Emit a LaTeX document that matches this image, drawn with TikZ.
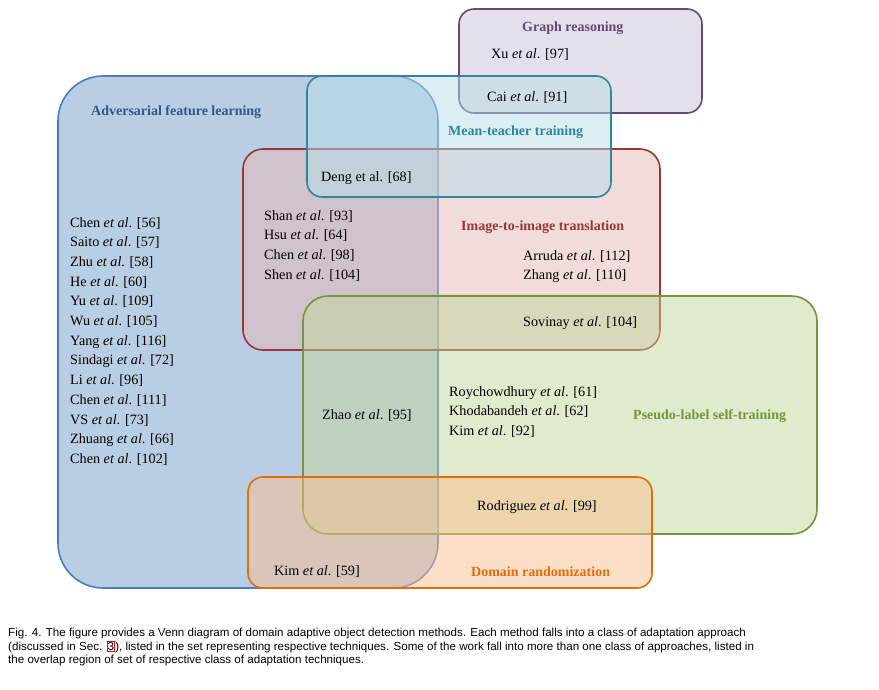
\documentclass[tikz,border=0pt]{standalone}
\usepackage{fontspec}
\setmainfont{Liberation Serif}
\newfontfamily\capf{Liberation Sans}
\begin{document}
\begin{tikzpicture}[x=1pt,y=-1pt,
  set/.style={line width=1.6pt,rounded corners=#1},
  ttl/.style={anchor=west,inner sep=0pt,font=\fontsize{14}{16}\selectfont\bfseries},
  lst/.style={anchor=north west,align=left,inner sep=0pt,font=\fontsize{14.2}{19.7}\selectfont},
  itm/.style={anchor=west,inner sep=0pt,font=\fontsize{14.2}{16}\selectfont}]
\definecolor{advb}{RGB}{74,126,187}\definecolor{advf}{RGB}{149,179,215}
\definecolor{grb}{RGB}{96,74,123}\definecolor{grf}{RGB}{204,192,218}
\definecolor{mtb}{RGB}{49,133,155}\definecolor{mtf}{RGB}{183,222,232}
\definecolor{iib}{RGB}{149,55,53}\definecolor{iif}{RGB}{230,185,184}
\definecolor{plb}{RGB}{119,147,60}\definecolor{plf}{RGB}{195,214,155}
\definecolor{drb}{RGB}{228,108,10}\definecolor{drf}{RGB}{250,192,144}
\useasboundingbox (0,0) rectangle (879,689);
\fill[white] (0,0) rectangle (879,689);
\draw[set=45pt,draw=advb,fill=advf,fill opacity=0.65] (58,76) rectangle (438,588);
\draw[set=15pt,draw=grb,fill=grf,fill opacity=0.5] (459,9) rectangle (702,113);
\draw[set=20pt,draw=iib,fill=iif,fill opacity=0.5] (243,149) rectangle (660,350);
\draw[set=15pt,draw=mtb,fill=mtf,fill opacity=0.5] (307,76) rectangle (611,197);
\draw[set=25pt,draw=plb,fill=plf,fill opacity=0.5] (303,296) rectangle (817,534);
\draw[set=15pt,draw=drb,fill=drf,fill opacity=0.5] (248,477) rectangle (652,588);
\node[ttl,text=grb] (tg) at (522,28) {Graph reasoning};
\node[ttl,text=advb!70!black] (ta) at (91,112) {Adversarial feature learning};
\node[ttl,text=mtb] (tm) at (448,132) {Mean-teacher training};
\node[ttl,text=iib] (ti) at (461,227) {Image-to-image translation};
\node[ttl,text=plb] (tp) at (633,416) {Pseudo-label self-training};
\node[ttl,text=drb] (td) at (471,572) {Domain randomization};
\node[itm] (xu) at (491,55) {Xu \emph{et al}. [97]};
\node[itm] (cai) at (487,98) {Cai \emph{et al}. [91]};
\node[itm] (deng) at (321,178) {Deng et al. [68]};
\node[lst] (adv) at (70,217) {Chen \emph{et al}. [56]\\Saito \emph{et al}. [57]\\Zhu \emph{et al}. [58]\\He \emph{et al}. [60]\\Yu \emph{et al}. [109]\\Wu \emph{et al}. [105]\\Yang \emph{et al}. [116]\\Sindagi \emph{et al}. [72]\\Li \emph{et al}. [96]\\Chen \emph{et al}. [111]\\VS \emph{et al}. [73]\\Zhuang \emph{et al}. [66]\\Chen \emph{et al}. [102]};
\node[lst] (ai) at (264,210) {Shan \emph{et al}. [93]\\Hsu \emph{et al}. [64]\\Chen \emph{et al}. [98]\\Shen \emph{et al}. [104]};
\node[lst] (ii) at (523,250) {Arruda \emph{et al}. [112]\\Zhang \emph{et al}. [110]};
\node[itm] (sov) at (523,323) {Sovinay \emph{et al}. [104]};
\node[lst] (pl) at (449,386) {Roychowdhury \emph{et al}. [61]\\Khodabandeh \emph{et al}. [62]\\Kim \emph{et al}. [92]};
\node[itm] (zhao) at (322,416) {Zhao \emph{et al}. [95]};
\node[itm] (rod) at (477,507) {Rodriguez \emph{et al}. [99]};
\node[itm] (kim) at (274,572) {Kim \emph{et al}. [59]};
\node[anchor=north west,inner sep=0pt,align=left,font=\capf\fontsize{11.6}{13.6}\selectfont] (cap) at (8,628) {Fig. 4. The figure provides a Venn diagram of domain adaptive object detection methods. Each method falls into a class of adaptation approach\\(discussed in Sec. {\setlength\fboxsep{0.3pt}\setlength\fboxrule{0.8pt}\fcolorbox{red}{white}{3}}), listed in the set representing respective techniques. Some of the work fall into more than one class of approaches, listed in\\the overlap region of set of respective class of adaptation techniques.};
\end{tikzpicture}
\end{document}
